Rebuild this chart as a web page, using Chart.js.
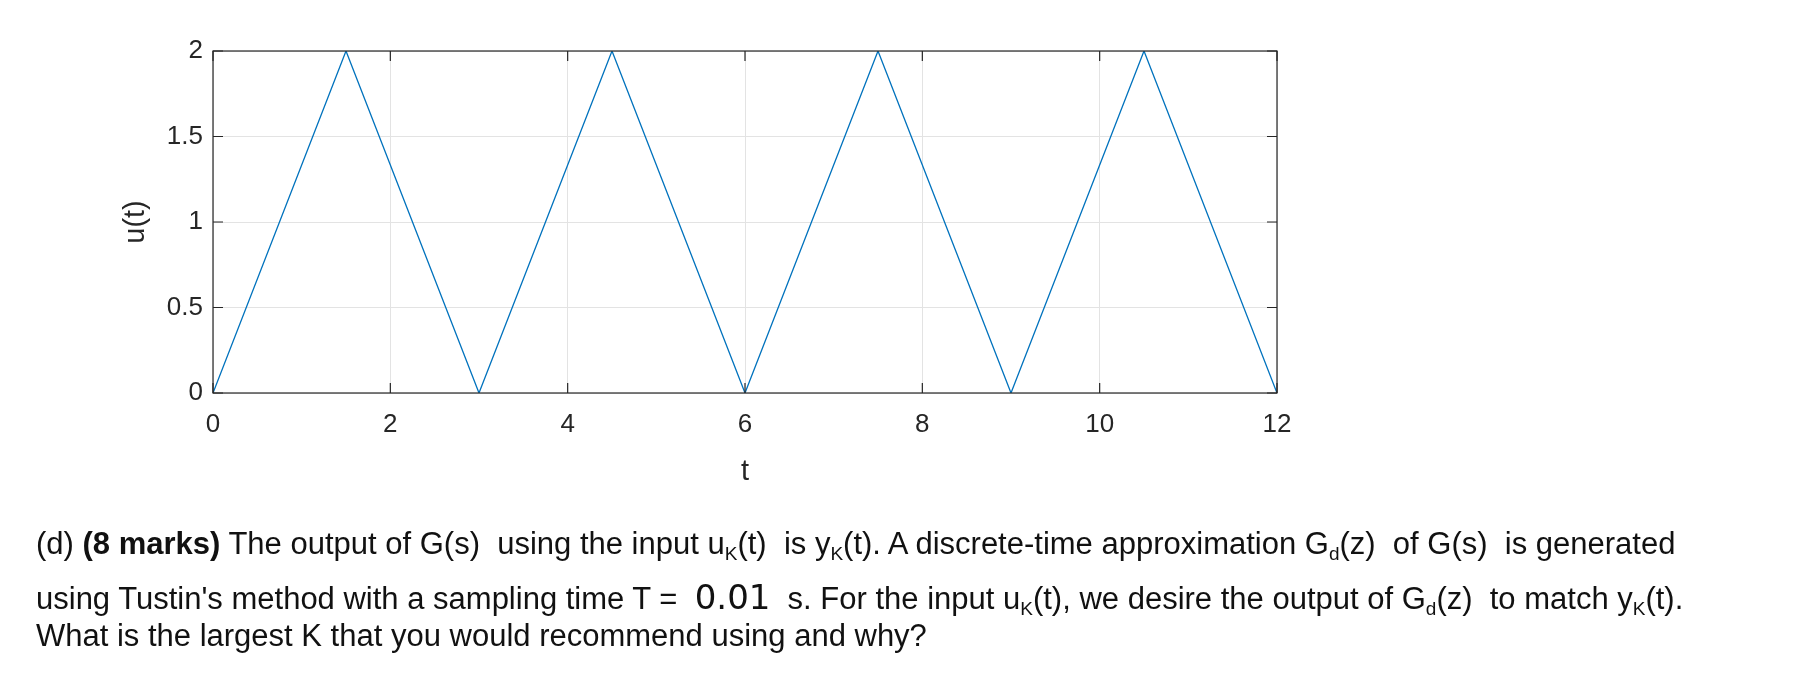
<!DOCTYPE html>
<html><head><meta charset="utf-8">
<script src="https://cdn.jsdelivr.net/npm/chart.js@4"></script>
<style>
body{margin:0;background:#fff;width:1800px;height:688px;overflow:hidden;position:relative;font-family:"Liberation Sans",Arial,sans-serif}
#wrap{position:absolute;left:0;top:0;width:1800px;height:688px}
.txt{position:absolute;left:36px;font-size:31px;color:#111;white-space:nowrap;line-height:1}
sub{font-size:19px;vertical-align:-6px}
.big{font-family:"DejaVu Sans";font-size:34px}
</style></head><body>
<div id="wrap"><canvas id="c" width="1800" height="688"></canvas></div>
<div class="txt" style="top:528px">(d) <b>(8 marks)</b> The output of G(s)&nbsp; using the input u<sub>K</sub>(t)&nbsp; is y<sub>K</sub>(t). A discrete-time approximation G<sub>d</sub>(z)&nbsp; of G(s)&nbsp; is generated</div>
<div class="txt" style="top:580px">using Tustin's method with a sampling time T = &nbsp;<span class="big">0.01</span>&nbsp; s. For the input u<sub>K</sub>(t), we desire the output of G<sub>d</sub>(z)&nbsp; to match y<sub>K</sub>(t).</div>
<div class="txt" style="top:620px">What is the largest K that you would recommend using and why?</div>
<script>
const tValues=[0,1.5,3,4.5,6,7.5,9,10.5,12];
const uValues=[0,2,0,2,0,2,0,2,0];
const xTicks=[0,2,4,6,8,10,12];
const yTicks=[0,0.5,1,1.5,2];
const box={id:'box',afterDraw(c){const a=c.chartArea,x=c.ctx;x.save();x.strokeStyle='#262626';x.lineWidth=1.2;x.strokeRect(a.left,a.top,a.right-a.left,a.bottom-a.top);
x.beginPath();const xs=c.scales.x,ys=c.scales.y;xTicks.forEach(v=>{const p=xs.getPixelForValue(v);x.moveTo(p,a.bottom);x.lineTo(p,a.bottom-10);x.moveTo(p,a.top);x.lineTo(p,a.top+10);});
yTicks.forEach(v=>{const p=ys.getPixelForValue(v);x.moveTo(a.left,p);x.lineTo(a.left+10,p);x.moveTo(a.right,p);x.lineTo(a.right-10,p);});x.stroke();
x.fillStyle='#262626';x.font='29px "Liberation Sans"';x.textAlign='center';x.textBaseline='middle';
x.fillText('t',(a.left+a.right)/2,472);
x.translate(136,222);x.rotate(-Math.PI/2);x.fillText('u(t)',0,0);x.restore();}};
new Chart(document.getElementById('c'),{type:'line',
data:{datasets:[{data:tValues.map((t,i)=>({x:t,y:uValues[i]})),borderColor:'#0072BD',borderWidth:1.3,pointRadius:0,tension:0}]},
options:{responsive:false,animation:false,layout:{padding:{top:51,right:523,left:0,bottom:0}},
plugins:{legend:{display:false},tooltip:{enabled:false}},
scales:{
x:{type:'linear',min:0,max:12,afterBuildTicks:s=>{s.ticks=xTicks.map(v=>({value:v}))},afterFit:s=>{s.height=295},
grid:{color:'#e3e3e3',drawTicks:false},border:{display:false},
ticks:{padding:16,color:'#262626',font:{family:'Liberation Sans',size:26}}},
y:{min:0,max:2,afterBuildTicks:s=>{s.ticks=yTicks.map(v=>({value:v}))},afterFit:s=>{s.width=213},
grid:{color:'#e3e3e3',drawTicks:false},border:{display:false},
ticks:{padding:10,color:'#262626',font:{family:'Liberation Sans',size:26},callback:v=>String(v)}}
}},plugins:[box]});
</script></body></html>
